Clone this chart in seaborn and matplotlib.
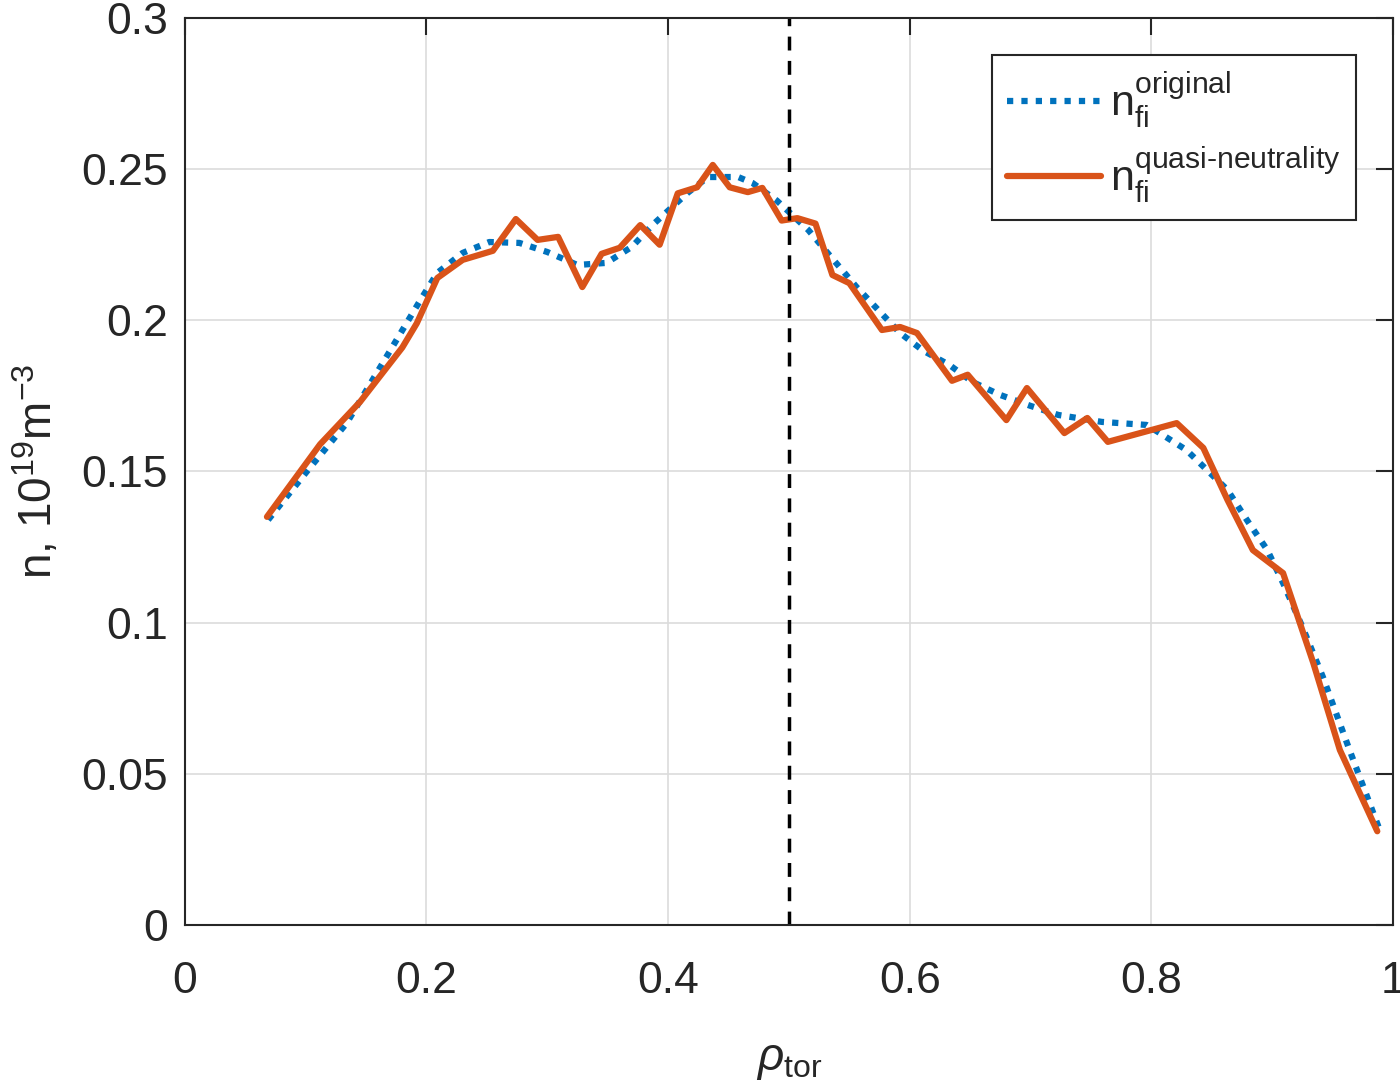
import numpy as np
import pandas as pd
import matplotlib
matplotlib.use("Agg")
import matplotlib.pyplot as plt
import seaborn as sns

# original fast-ion density (smooth profile)
rho_orig = [0.069, 0.102, 0.134, 0.170, 0.195, 0.209, 0.230, 0.252, 0.277, 0.300,
            0.325, 0.349, 0.370, 0.387, 0.416, 0.433, 0.458, 0.470, 0.490, 0.516,
            0.532, 0.556, 0.574, 0.592, 0.611, 0.633, 0.652, 0.675, 0.700, 0.723,
            0.759, 0.796, 0.807, 0.829, 0.846, 0.863, 0.879, 0.896, 0.909, 0.925,
            0.942, 0.964, 0.989]
n_orig = [0.134, 0.1505, 0.166, 0.190, 0.2067, 0.2157, 0.2223, 0.2259, 0.2256, 0.2226,
          0.2183, 0.219, 0.2243, 0.2315, 0.2421, 0.2474, 0.2474, 0.2454, 0.2396, 0.2299,
          0.2223, 0.211, 0.2034, 0.1958, 0.190, 0.1852, 0.1796, 0.1753, 0.1717, 0.1687,
          0.1664, 0.1654, 0.1627, 0.1571, 0.1505, 0.1439, 0.134, 0.124, 0.1131, 0.0986,
          0.082, 0.0579, 0.0314]

# density from quasi-neutrality (noisy)
rho_qn = [0.068, 0.112, 0.145, 0.180, 0.192, 0.209, 0.230, 0.255, 0.274, 0.292,
          0.309, 0.329, 0.345, 0.360, 0.377, 0.393, 0.408, 0.424, 0.437, 0.451,
          0.466, 0.478, 0.494, 0.507, 0.522, 0.536, 0.550, 0.577, 0.592, 0.606,
          0.635, 0.648, 0.680, 0.697, 0.728, 0.747, 0.764, 0.821, 0.843, 0.863,
          0.884, 0.909, 0.934, 0.956, 0.987]
n_qn = [0.135, 0.159, 0.173, 0.191, 0.199, 0.214, 0.220, 0.223, 0.2335, 0.2266,
        0.2276, 0.211, 0.222, 0.224, 0.2315, 0.225, 0.242, 0.244, 0.2514, 0.244,
        0.2424, 0.2438, 0.233, 0.2338, 0.232, 0.215, 0.2123, 0.1968, 0.1978, 0.1958,
        0.180, 0.182, 0.167, 0.1776, 0.1627, 0.1677, 0.1598, 0.166, 0.1578, 0.1406,
        0.124, 0.1164, 0.0867, 0.0579, 0.031]

df_orig = pd.DataFrame({"rho": rho_orig, "n": n_orig})
df_qn = pd.DataFrame({"rho": rho_qn, "n": n_qn})

sns.set_style("white")
plt.rcParams['font.family'] = ['Liberation Sans', 'DejaVu Sans']
plt.rcParams['mathtext.fontset'] = 'custom'
plt.rcParams['mathtext.rm'] = 'Liberation Sans'
plt.rcParams['mathtext.it'] = 'Liberation Sans:italic'

fig = plt.figure(figsize=(14, 10.84), dpi=100)
ax = fig.add_axes([0.132, 0.1467, 0.863, 0.8367])

sns.lineplot(data=df_orig, x="rho", y="n", sort=False, ax=ax, color="#0072BD",
             linestyle=(0, (1, 1.3)), linewidth=4.5,
             label=r"$\mathregular{n_{fi}^{original}}$")
sns.lineplot(data=df_qn, x="rho", y="n", sort=False, ax=ax, color="#D95319",
             linewidth=4.5, label=r"$\mathregular{n_{fi}^{quasi\text{-}neutrality}}$")
ax.axvline(0.5, color="black", linestyle=(0, (4, 3)), linewidth=2.5)

ax.set_xlim(0, 1)
ax.set_ylim(0, 0.3)
ax.set_xticks([0, 0.2, 0.4, 0.6, 0.8, 1])
ax.set_xticklabels(["0", "0.2", "0.4", "0.6", "0.8", "1"])
ax.set_yticks([0, 0.05, 0.1, 0.15, 0.2, 0.25, 0.3])
ax.set_yticklabels(["0", "0.05", "0.1", "0.15", "0.2", "0.25", "0.3"])
ax.grid(True, color="#dcdcdc", linewidth=1.2)
ax.tick_params(direction="in", length=12, width=1.5, top=True, right=True,
               labelsize=32, colors="#262626", pad=12)
ax.tick_params(axis="x", pad=26)
for s in ax.spines.values():
    s.set_color("#262626")
    s.set_linewidth(1.5)

ax.set_xlabel(r"$\rho_{\mathregular{tor}}$", fontsize=33, color="#262626", labelpad=26)
ax.set_ylabel(r"n, 10$^{19}$m$^{-3}$", fontsize=33, color="#262626", labelpad=14)

leg = ax.legend(loc="upper right", bbox_to_anchor=(0.969, 0.959), fontsize=31,
                handlelength=2.2, handletextpad=0.2, borderpad=0.35,
                labelspacing=0.35, borderaxespad=0, fancybox=False, framealpha=1)
leg.get_frame().set_edgecolor("#262626")
leg.get_frame().set_linewidth(1.5)

fig.savefig("out.png", dpi=100)
